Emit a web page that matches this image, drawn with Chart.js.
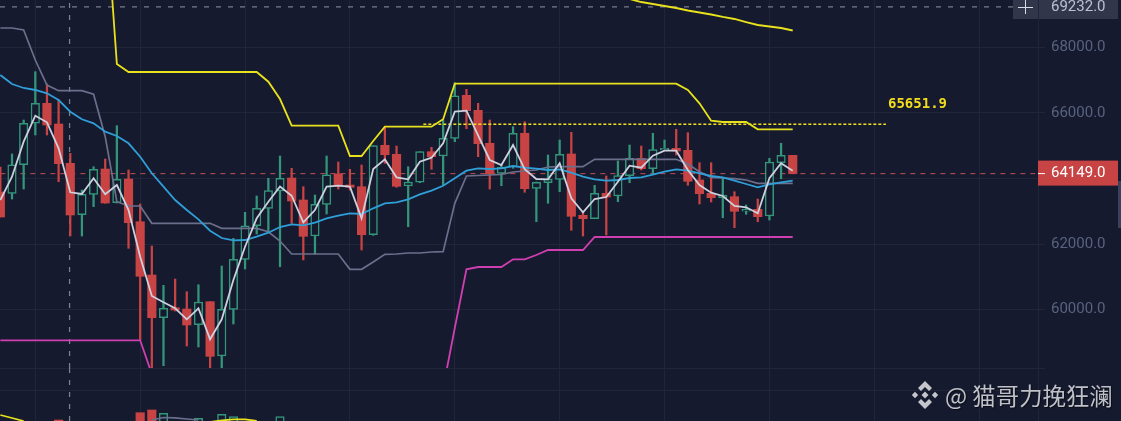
<!DOCTYPE html>
<html>
<head>
<meta charset="utf-8">
<script src="https://cdn.jsdelivr.net/npm/chart.js@4/dist/chart.umd.js"></script>
<style>
  html, body { margin: 0; padding: 0; background: #161a2e; overflow: hidden; }
  #wrap { position: relative; width: 1121px; height: 421px; }
  #mainChart { position: absolute; left: 0; top: 0; }
  #lowerChart { position: absolute; left: 0; top: 368px; }
  #scrollbar { position: absolute; left: 1118px; top: 181px; width: 3px; height: 47px; background: #3a415c; }
  #mark { position: absolute; left: 911px; top: 381px; width: 28px; height: 28px; }
  #watermark { position: absolute; left: 945px; top: 378px; font: 23.4px "Noto Sans CJK SC", sans-serif; line-height: 34px;
    color: #bfc1c8; white-space: nowrap; text-shadow: 1px 1px 1px #0a0c16; }
</style>
</head>
<body>
<div id="wrap">
  <canvas id="mainChart" width="1121" height="368"></canvas>
  <canvas id="lowerChart" width="1121" height="53"></canvas>
  <div id="scrollbar"></div>
  <svg id="mark" viewBox="0 0 28 28">
    <g fill="#c4c6cc">
      <path d="M14 0 L21 7 L18 10 L14 6 L10 10 L7 7 Z"/>
      <path d="M14 28 L21 21 L18 18 L14 22 L10 18 L7 21 Z"/>
      <path d="M14 10.5 L17.5 14 L14 17.5 L10.5 14 Z"/>
      <path d="M4 10.8 L7.2 14 L4 17.2 L0.8 14 Z"/>
      <path d="M24 10.8 L27.2 14 L24 17.2 L20.8 14 Z"/>
    </g>
  </svg>
  <div id="watermark">@ 猫哥力挽狂澜</div>
</div>
<script>
// candles, one entry per bar
var opens = [63588,63548,64420,65683,66292,65661,64463,62896,63518,64289,63262,63984,62682,61057,59755,60060,60021,59542,60243,58588,60011,61536,62560,63091,63618,64015,63344,62246,63213,64137,63801,63750,62286,65012,64737,63771,63884,64817,64686,65225,66536,66079,65073,64158,64350,65378,63701,63871,63975,64747,62877,62774,63548,63466,64085,64615,64298,64868,64920,64859,63954,63548,63414,63445,63000,63060,62856,64481,64707];
var closes = [62826,64420,65683,66292,65631,64451,62887,63518,64280,63253,63975,62652,61018,59755,60042,59990,59533,60234,58578,60011,61536,62560,63091,63628,64006,63314,62237,63213,64115,63771,63731,62286,65000,64725,63762,63893,64817,64664,65225,66524,66067,65061,64137,64341,65378,63689,63884,63984,64737,62847,62774,63548,63435,64085,64615,64298,64878,64920,64838,63914,63536,63414,63487,63000,63060,62835,64503,64707,64149];
var highs = [64350,64747,65783,67256,66881,66393,64768,63649,64359,64594,65609,64259,63222,61941,60743,60935,60548,60761,60243,61332,62176,62969,63466,64006,64686,64311,63750,63496,64686,64503,64280,64411,65000,65579,64990,64359,64817,64951,65783,66920,66719,66292,65783,64411,65579,65731,63893,64716,65173,65408,62978,63792,64076,64533,65021,64990,65378,65173,65500,65396,64481,64481,64036,63597,63192,63374,64615,65073,64707];
var lows = [62826,63374,63679,65326,65326,63902,62246,62246,63140,63244,63253,61871,59075,58008,58292,59960,58892,58862,58231,58100,59563,61240,62307,62408,61310,62634,61515,61698,62917,63679,63649,61819,62268,64463,63731,62530,63871,64280,63801,65122,65518,64664,63679,63780,64311,63579,62682,63244,63597,62420,62246,62774,62277,63292,63871,64259,64137,64868,64716,63792,63222,63283,62804,62500,62908,62682,62734,63993,64149];

// indicator lines
var whiteLine = [63344,64054,65122,65914,65713,64920,63579,63527,64006,63518,63801,63039,61615,60417,60225,60042,59706,60042,59097,59706,60905,61920,62786,63292,63756,63475,62664,63039,63750,63780,63750,62786,64289,64585,64036,63975,64512,64634,65073,66036,66067,65317,64564,64411,65021,64280,63984,63975,64463,63396,62969,63374,63435,63902,64390,64329,64695,64847,64847,64259,63801,63567,63466,63161,63121,62938,64006,64463,64237];
var blueLine = [67155,66881,66759,66698,66597,66393,66036,65805,65683,65426,65295,65073,64664,64158,63750,63344,63039,62755,62408,62185,62115,62124,62225,62347,62521,62603,62572,62652,62786,62865,62938,62917,63091,63243,63274,63365,63518,63628,63780,64006,64237,64311,64289,64311,64381,64329,64298,64259,64280,64176,64054,63975,63932,63954,64015,64036,64115,64207,64280,64237,64158,64076,64036,63932,63832,63731,63823,63884,63932];
var grayLine = [68588,68588,68527,67613,66850,66677,66677,66677,66567,65274,63292,63161,63161,62634,62634,62634,62634,62634,62634,62481,62481,62481,62481,62377,62094,61698,61698,61698,61698,61698,61231,61231,61454,61688,61698,61728,61728,61759,61768,63243,64076,64091,64106,64121,64198,64228,64259,64350,64359,64359,64359,64585,64585,64585,64585,64585,64585,64585,64585,64441,64207,64036,64015,63993,63954,63853,63853,63853,63853];
var yellowLine = [null,null,null,null,null,null,null,null,null,72491,67491,67247,67247,67247,67247,67247,67247,67247,67247,67247,67247,67247,67247,66951,66423,65609,65609,65609,65609,65609,64686,64686,65143,65579,65579,65579,65579,65579,65805,66890,66890,66890,66890,66890,66890,66890,66890,66890,66890,66890,66890,66890,66890,66890,66890,66890,66890,66890,66890,66698,66292,65762,65722,65722,65722,65500,65500,65500,65500];
var yellowTopLine = [null,null,null,null,null,null,null,null,null,null,null,null,null,null,null,null,null,null,null,null,null,null,null,null,null,null,null,null,null,null,null,null,null,null,null,null,null,null,null,null,null,null,null,null,null,null,null,null,null,null,null,null,null,null,69472,69381,69320,69259,69198,69122,69061,69000,68924,68863,68771,68680,68634,68588,68512];
var magentaLine = [59066,59066,59066,59066,59066,59066,59066,59066,59066,59066,59066,59066,59066,58039,57612,57612,57612,57612,57612,57612,57612,57612,57612,57612,57612,57612,57612,57612,57612,57612,57612,57612,57612,57612,57612,57612,57612,57612,57612,59441,61231,61301,61301,61301,61536,61536,61667,61820,61820,61820,61820,62216,62216,62216,62216,62216,62216,62216,62216,62216,62216,62216,62216,62216,62216,62216,62216,62216,62216];

// lower pane, only the tops show
var lowerIndex = [5,12,13,14,17,19,20,24];
var lowerValues = [1,8.3,11,7.7,2.7,6.7,4.3,4.3];
var lowerIsUp = [false,false,false,true,true,true,true,true];
var lowerYellow = [6,3,0,null,null,null,null,null,null,null,null,null,null,null,null,null,null,null,-1,0.5,1.7,1.7,0];
var lowerGray = [null,null,null,null,null,null,null,null,null,null,null,null,null,1,3.5,3.2,2,1];

var gridIndex = [3,12,21,30,39,48,57,66,75,84];
var priceTicks = [60000,62000,64000,66000,68000];
var lowerTicks = [30.3,53];

var lastPrice = 64149;
var crossPrice = 69232;
var levelPrice = 65651.9;
var crossIndex = 5.94;

var BG = '#161a2e';
var GRID = '#21253a';
var RED = '#c84343';
var GREEN = '#33967a';
var AXIS_W = 83;

function points(list) {
  return list.map(function(v, i) { return {x: i, y: v}; });
}

function lineSet(list, color, width, order) {
  return {type: 'line', data: points(list), borderColor: color, borderWidth: width, pointRadius: 0, tension: 0, order: order};
}

function flat(x1, x2, y, color, dash, width, order) {
  return {type: 'line', data: [{x: x1, y: y}, {x: x2, y: y}], borderColor: color, borderWidth: width, borderDash: dash, pointRadius: 0, order: order};
}

function xAxis() {
  return {
    type: 'linear', min: -0.03, max: 89.05, offset: false,
    afterBuildTicks: function(s) { s.ticks = gridIndex.map(function(v) { return {value: v}; }); },
    grid: {color: GRID, offset: false, drawTicks: false},
    border: {display: false},
    ticks: {display: false}
  };
}

function fitAxis(s) {
  s.width = AXIS_W;
  s.paddingTop = 0;
  s.paddingBottom = 0;
}

// body and wick per candle
var wickData = [], bodyData = [], barColor = [];
for (var i = 0; i < opens.length; i++) {
  wickData.push({x: i, y: [lows[i], highs[i]]});
  bodyData.push({x: i, y: [opens[i], closes[i]]});
  barColor.push(closes[i] >= opens[i] ? GREEN : RED);
}

// price boxes and the level label
var labels = {
  id: 'labels',
  afterDraw: function(chart) {
    var c = chart.ctx, y = chart.scales.y, area = chart.chartArea;
    c.save();
    c.textBaseline = 'middle';

    c.fillStyle = '#32364a';
    c.fillRect(area.right + 1, 0, 79, 19);
    c.fillRect(1013, 0, 25, 19);
    c.strokeStyle = '#d8dbe6';
    c.lineWidth = 1;
    c.beginPath();
    c.moveTo(1018, 7.5); c.lineTo(1033, 7.5);
    c.moveTo(1025.5, 0); c.lineTo(1025.5, 14);
    c.stroke();
    c.fillStyle = '#bcc0d4';
    c.font = '15px Roboto';
    c.fillText(crossPrice.toFixed(1), 1051, y.getPixelForValue(crossPrice));

    var py = y.getPixelForValue(lastPrice);
    c.fillStyle = RED;
    c.fillRect(area.right, py - 13, 80, 25);
    c.strokeStyle = '#ffffff';
    c.beginPath();
    c.moveTo(area.right, py); c.lineTo(area.right + 7, py);
    c.stroke();
    c.fillStyle = '#ffffff';
    c.fillText(lastPrice.toFixed(1), 1051, py);

    c.fillStyle = '#f2dc1e';
    c.font = 'bold 14px "DejaVu Sans Mono"';
    c.fillText(levelPrice.toFixed(1), 888, y.getPixelForValue(levelPrice) - 20);
    c.restore();
  }
};

var mainSets = [
  lineSet(whiteLine, '#cdd0de', 1.8, 1),
  lineSet(blueLine, '#2f9fd8', 1.8, 2),
  lineSet(grayLine, '#6c6f8c', 1.7, 3),
  lineSet(yellowLine, '#e8e21c', 1.8, 4),
  lineSet(yellowTopLine, '#e8e21c', 1.8, 4),
  lineSet(magentaLine, '#d03fb0', 1.8, 4),
  flat(36.3, 76, levelPrice, '#f0e020', [3, 2], 1.4, 5),
  {type: 'bar', data: bodyData, grouped: false, barThickness: 8.5, order: 6,
    backgroundColor: function(ctx) { return barColor[ctx.dataIndex] === RED ? RED : BG; },
    borderColor: barColor, borderWidth: function(ctx) { return barColor[ctx.dataIndex] === RED ? 0 : 1.5; }, borderSkipped: false},
  {type: 'bar', data: wickData, grouped: false, barThickness: 1.6, order: 7, backgroundColor: barColor, borderWidth: 0},
  flat(0, 89.05, lastPrice, '#b04a50', [5, 5], 1.1, 8),
  flat(-0.03, 86.9, crossPrice, '#777b8c', [5, 7], 1.2, 8),
  {type: 'line', data: [{x: crossIndex, y: 58222}, {x: crossIndex, y: 69442}], borderColor: '#80848f', borderWidth: 1.2, borderDash: [5, 7], pointRadius: 0, order: 8}
];

new Chart(document.getElementById('mainChart'), {
  type: 'bar',
  data: {datasets: mainSets},
  plugins: [labels],
  options: {
    responsive: false, animation: false,
    layout: {padding: 0},
    plugins: {legend: {display: false}, tooltip: {enabled: false}},
    scales: {
      x: xAxis(),
      y: {
        position: 'right', min: 58222, max: 69442,
        afterFit: fitAxis,
        afterBuildTicks: function(s) { s.ticks = priceTicks.map(function(v) { return {value: v}; }); },
        grid: {color: GRID, tickLength: 7},
        border: {color: GRID},
        ticks: {color: '#58627f', padding: 6, font: {family: 'Roboto', size: 15},
          callback: function(v) { return v.toFixed(1); }}
      }
    }
  }
});

var lowerBars = [], lowerColors = [];
for (var k = 0; k < lowerIndex.length; k++) {
  lowerBars.push({x: lowerIndex[k], y: [-5, lowerValues[k]]});
  lowerColors.push(lowerIsUp[k] ? GREEN : RED);
}

new Chart(document.getElementById('lowerChart'), {
  type: 'bar',
  data: {datasets: [
    lineSet(lowerYellow, '#e8e21c', 1.8, 1),
    lineSet(lowerGray, '#6c6f8c', 1.7, 2),
    {type: 'bar', data: lowerBars, grouped: false, barThickness: 8.5, order: 3,
      backgroundColor: function(ctx) { return lowerIsUp[ctx.dataIndex] ? BG : RED; },
      borderColor: lowerColors, borderWidth: function(ctx) { return lowerIsUp[ctx.dataIndex] ? 1.5 : 0; }, borderSkipped: false},
    {type: 'line', data: [{x: crossIndex, y: 0}, {x: crossIndex, y: 53}], borderColor: '#80848f', borderWidth: 1.2, borderDash: [5, 7], pointRadius: 0, order: 4}
  ]},
  options: {
    responsive: false, animation: false,
    layout: {padding: 0},
    plugins: {legend: {display: false}, tooltip: {enabled: false}},
    scales: {
      x: xAxis(),
      y: {
        position: 'right', min: 0, max: 53,
        afterFit: fitAxis,
        afterBuildTicks: function(s) { s.ticks = lowerTicks.map(function(v) { return {value: v}; }); },
        grid: {color: GRID, tickLength: 7},
        border: {color: GRID},
        ticks: {display: false}
      }
    }
  }
});
</script>
</body>
</html>
